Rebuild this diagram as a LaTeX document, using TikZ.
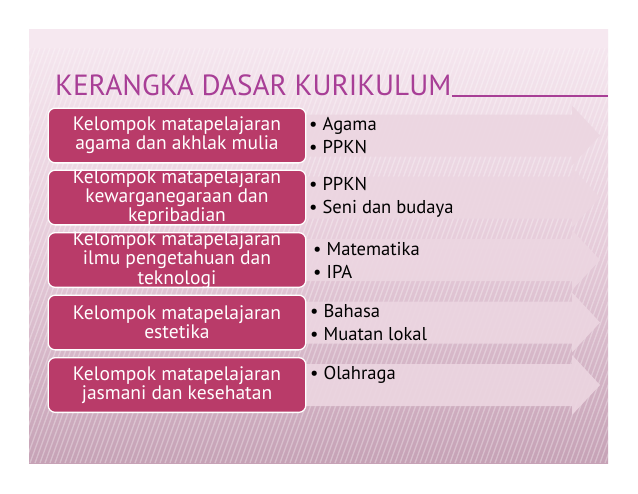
\documentclass[tikz,border=0pt]{standalone}
\usepackage{fontspec}
\setmainfont{PT Sans}
\definecolor{bgtop}{RGB}{246,232,240}
\definecolor{bgmid}{RGB}{230,204,218}
\definecolor{bgbot}{RGB}{198,162,182}
\definecolor{boxfill}{RGB}{185,59,105}
\definecolor{titlecol}{RGB}{168,62,150}
\definecolor{arrowfill}{RGB}{236,214,225}
\newcommand\rowarrow[1]{%
  \fill[arrowfill,opacity=0.9] (298,#1-21) -- (572,#1-21) -- (572,#1-30) -- (600,#1)
    -- (572,#1+30) -- (572,#1+21) -- (298,#1+21) -- cycle;}
\begin{document}
\begin{tikzpicture}[x=0.85pt,y=-0.85pt,
  boxst/.style={fill=boxfill,draw=white,line width=1.1pt,rounded corners=6pt,
    minimum width=219pt,minimum height=46.5pt,inner sep=0pt},
  boxtext/.style={text=white,align=center,font=\fontsize{16.6}{16.4}\selectfont,inner sep=0pt},
  bulst/.style={text=black,align=left,font=\fontsize{15.8}{19.5}\selectfont,inner sep=0pt,anchor=west},
  titlest/.style={text=titlecol,font=\fontsize{24.8}{27}\selectfont,inner sep=0pt,anchor=base west}]
\useasboundingbox (0,0) rectangle (638,493);
\fill[white] (0,0) rectangle (638,493);
\shade[top color=bgtop, bottom color=bgbot, middle color=bgmid] (29,29) rectangle (608,463);
\begin{scope}
  \clip (29,29) rectangle (608,463);
  \fill[bgtop] (29,29) rectangle (608,48);
  \foreach \k in {-160,-155,...,610}
    \draw[white,opacity=0.3,line width=1.1pt] (\k,463) -- (\k+150,48);
\end{scope}
% title
\node[titlest] (title) at (55,95) {KERANGKA DASAR KURIKULUM};
\coordinate (lineL) at (452,96);
\coordinate (lineR) at (608,96);
\draw[titlecol,line width=1pt] (lineL) -- (lineR);
% arrows
\rowarrow{135.5}
\rowarrow{197.5}
\rowarrow{260}
\rowarrow{322.5}
\rowarrow{385}
% boxes
\node[boxst] (b1) at (177,135.5) {};
\node[boxst] (b2) at (177,197.5) {};
\node[boxst] (b3) at (177,260) {};
\node[boxst] (b4) at (177,322.5) {};
\node[boxst] (b5) at (177,385) {};
\node[boxtext] (t1) at (b1.center) {Kelompok matapelajaran\\agama dan akhlak mulia};
\node[boxtext] (t2) at (b2.center) {Kelompok matapelajaran\\kewarganegaraan dan\\kepribadian};
\node[boxtext] (t3) at (b3.center) {Kelompok matapelajaran\\ilmu pengetahuan dan\\teknologi};
\node[boxtext] (t4) at (b4.center) {Kelompok matapelajaran\\estetika};
\node[boxtext] (t5) at (b5.center) {Kelompok matapelajaran\\jasmani dan kesehatan};
% bullets
\node[bulst] (l1) at (309,135.5) {\textbullet\ Agama\\\textbullet\ PPKN};
\node[bulst] (l2) at (309,197.5) {\textbullet\ PPKN\\\textbullet\ Seni dan budaya};
\node[bulst] (l3) at (313,260) {\textbullet\ Matematika\\\textbullet\ IPA};
\node[bulst] (l4) at (310,322.5) {\textbullet\ Bahasa\\\textbullet\ Muatan lokal};
\node[bulst] (l5) at (310,375) {\textbullet\ Olahraga};
\end{tikzpicture}
\end{document}
